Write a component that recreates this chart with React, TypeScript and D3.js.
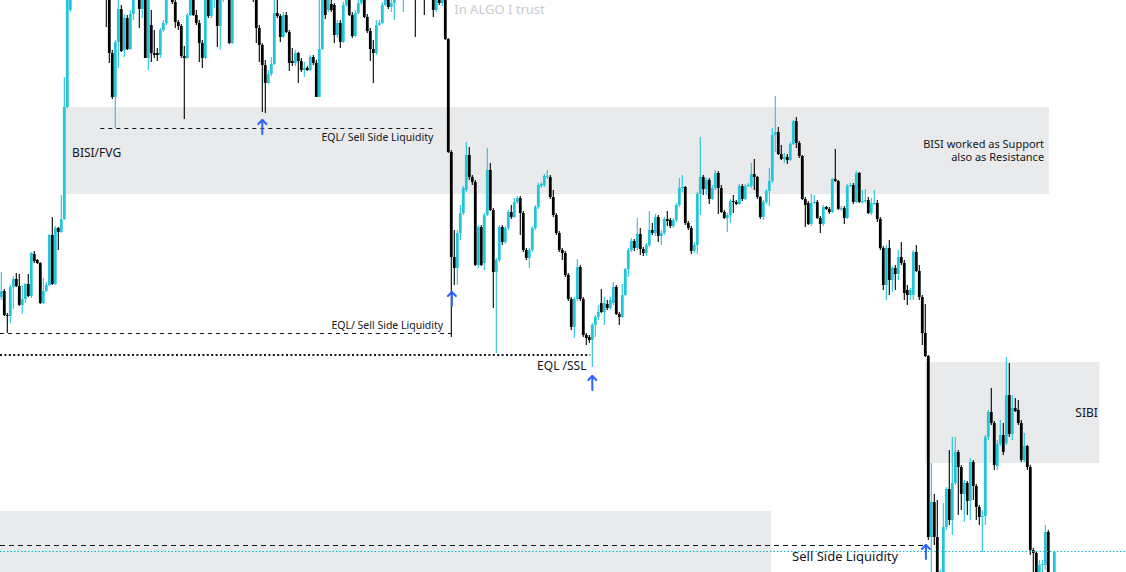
import React from "react";
import * as d3 from "d3";

// ---- Candle data (price units) ----
const OPEN = [
  403,409,385,384,413,421,414,395,401,416, 404,446,440,437,397,409,415,465,416,472,
  468,481,593,690,770,810,795,830,850,820, 790,805,770,755,775,740,715,647,603,658,
  691,650,682,651,686,708,720,691,715,642, 675,647,647,645,670,677,705,720,698,678,
  674,644,642,685,705,685,677,657,642,702, 684,703,715,674,703,715,725,657,710,730,
  745,730,750,725,712,708,672,655,635,617, 626,636,687,684,663,685,668,639,637,647,
  639,630,632,630,643,637,603,651,705,690, 696,695,665,677,658,695,708,685,664,687,
  697,705,683,669,651,647,675,677,695,705, 693,697,704,710,702,712,720,708,703,702,
  715,720,710,718,705,690,705,697,703,661, 548,443,432,467,487,510,545,523,518,435,
  473,437,485,530,490,428,440,473,458,472, 488,483,498,502,487,450,442,450,472,493,
  514,515,523,523,503,485,467,450,447,425, 401,373,401,433,401,365,363,360,375,383,
  397,388,396,392,397,413,386,383,405,431, 450,459,452,466,451,447,455,470,467,483,
  464,467,481,480,474,480,495,512,513,477, 472,449,455,506,523,511,520,501,512,527,
  512,488,482,485,499,498,496,514,501,514, 514,526,523,503,483,498,509,519,565,568,
  546,541,543,540,556,579,557,544,501,497, 476,497,498,482,476,493,491,488,521,519,
  491,492,482,514,515,498,527,498,499,500, 487,496,497,481,452,415,452,420,432,426,
  443,437,410,405,405,448,429,403,367,344, 163,198,163,100,110,173,211,180,217,248,
  233,206,217,199,238,214,193,183,184,263, 288,277,234,256,265,257,305,266,292,290,
  277,240,254,233,150,147,110,135,135,168, 110,100,
];
const HIGH = [
  428,411,387,415,424,427,426,415,417,426, 448,449,441,438,422,418,466,483,474,473,
  505,623,730,780,820,825,840,860,855,825, 815,810,780,785,780,750,720,650,660,700,
  695,686,685,690,715,730,730,725,720,720, 690,670,652,672,680,710,730,725,700,680,
  676,654,687,710,710,690,680,660,708,705, 708,725,720,708,720,735,730,715,740,755,
  750,760,755,730,720,712,675,657,640,630, 643,700,705,686,688,688,670,652,650,648,
  642,638,634,645,645,640,700,710,710,708, 705,697,680,680,698,712,712,688,690,700,
  708,708,686,672,660,680,680,698,710,710, 700,710,720,715,720,730,725,712,708,722,
  728,725,725,722,710,710,710,708,708,662, 550,470,470,495,514,558,553,525,520,475,
  475,487,552,537,492,442,475,475,474,490, 495,502,504,504,489,452,452,474,495,517,
  518,526,530,525,510,487,469,452,449,427, 403,403,441,435,403,367,365,377,385,395,
  411,403,400,403,418,415,388,416,432,452, 462,461,482,472,453,457,489,477,486,485,
  470,483,489,482,482,497,522,525,514,479, 474,458,508,563,525,522,522,515,530,529,
  515,490,487,501,505,500,516,516,516,517, 537,541,524,504,500,511,532,572,604,573,
  555,547,546,558,580,583,559,545,503,499, 506,505,500,484,495,494,493,522,551,520,
  494,494,516,517,517,529,528,510,511,503, 502,510,500,483,454,455,460,434,435,450,
  458,440,415,412,450,455,435,405,396,345, 237,206,200,130,197,213,250,263,263,250,
  235,220,219,242,240,216,195,190,265,290, 312,279,260,280,277,343,337,305,302,300,
  280,267,255,235,152,149,140,140,175,170, 115,148,
];
const LOW = [
  400,384,367,377,391,413,394,386,397,403, 402,437,436,396,396,408,414,415,415,450,
  467,480,592,688,760,790,790,825,815,785, 780,765,745,750,730,673,637,601,572,632,
  648,643,650,650,680,702,672,682,642,630, 638,642,639,642,668,675,702,696,672,670,
  642,581,641,684,684,675,638,632,641,682, 682,692,653,650,698,710,656,656,705,725,
  720,725,715,705,698,657,638,588,587,616, 624,635,682,658,662,667,629,634,634,617,
  628,623,629,629,635,603,603,650,681,688, 688,657,662,652,657,693,684,662,663,686,
  695,682,667,639,617,645,674,676,694,691, 688,680,702,700,688,708,705,700,663,700,
  710,685,705,700,683,688,695,694,660,547, 363,415,415,460,485,508,520,515,434,432,
  434,430,484,489,392,347,438,455,456,470, 481,482,496,465,448,440,432,448,470,491,
  512,513,521,501,483,465,448,440,423,399, 370,362,399,399,363,355,357,333,363,380,
  387,375,390,390,395,385,375,382,404,423, 448,449,450,445,444,444,453,465,464,458,
  455,465,474,472,472,478,493,508,475,470, 446,447,446,485,505,505,496,500,510,486,
  487,481,468,477,487,495,495,499,500,513, 512,510,501,481,480,496,494,517,548,545,
  540,537,536,539,555,552,542,500,473,475, 474,496,481,467,474,490,486,487,518,490,
  489,476,481,513,496,497,497,496,497,486, 485,495,478,450,410,400,405,408,410,420,
  435,400,395,400,400,428,400,355,343,160, 110,155,100,90,100,170,175,165,215,185,
  190,178,185,180,200,180,175,148,175,260, 275,230,230,254,245,255,263,260,288,275,
  238,238,230,145,100,100,100,125,130,100, 90,90,
];
const CLOSE = [
  409,385,385,413,421,414,395,401,416,404, 447,439,437,397,409,415,465,416,472,468,
  481,593,720,770,810,795,830,850,820,790, 805,770,755,775,740,715,647,603,658,691,
  649,682,651,686,708,720,691,715,642,710, 647,645,645,670,677,705,720,698,678,674,
  644,642,685,705,685,677,657,642,702,684, 703,715,674,703,715,725,657,710,730,745,
  730,750,725,712,708,672,655,635,617,626, 636,687,684,663,685,668,637,637,647,639,
  630,632,630,643,637,603,651,705,685,702, 690,665,677,658,695,705,685,664,687,697,
  705,683,669,651,647,675,677,695,705,693, 697,704,710,702,712,720,708,703,702,715,
  720,710,718,705,690,705,697,703,661,548, 443,432,467,487,512,545,523,518,435,473,
  435,485,530,490,428,440,473,458,472,488, 483,498,502,487,450,442,450,472,493,515,
  516,524,524,503,485,467,450,447,425,401, 373,401,433,401,365,362,360,375,383,388,
  388,397,392,400,413,386,383,405,431,450, 459,452,466,451,447,455,470,467,483,464,
  467,481,479,474,480,495,512,513,477,472, 449,455,506,523,511,520,501,512,527,512,
  488,482,485,499,498,496,514,501,514,515, 526,523,503,483,498,509,519,565,568,546,
  541,543,540,556,579,557,544,501,495,476, 497,498,482,476,493,491,488,521,519,491,
  492,482,514,515,498,527,498,499,500,487, 497,497,481,452,415,452,420,432,426,443,
  437,407,405,410,448,429,403,367,344,163, 198,163,110,115,173,211,180,217,248,233,
  206,217,199,238,214,193,183,184,263,288, 277,235,256,265,248,305,266,292,289,277,
  240,254,233,150,147,110,135,136,168,110, 100,148,
];

// ---- Annotations (candle index / price level) ----
const ZONE_BISI = { from: 21, to: 349.2, top: 593, bottom: 506, label: "BISI/FVG" };
const ZONE_SIBI = { from: 308, to: 366, top: 338, bottom: 237, label: "SIBI" };
const ZONE_LOW = { from: -0.5, to: 256.6, top: 189, bottom: 120 };
const EQL_LINES = [
  { from: 33, to: 145, price: 572, label: "EQL/ Sell Side Liquidity", labelEnd: 144, labelPrice: 559 },
  { from: -0.5, to: 150, price: 367, label: "EQL/ Sell Side Liquidity", labelEnd: 147.3, labelPrice: 371 },
];
const SSL_DOTTED = { from: -0.5, to: 196.3, price: 345, label: "EQL /SSL", labelStart: 178.6, labelPrice: 330 };
const LOW_DASHED = { from: -0.5, to: 308, price: 155 };
const CYAN_LINE = { price: 149 };
const ARROWS = [
  { i: 87, price: 581 },
  { i: 150.2, price: 409 },
  { i: 197, price: 325 },
  { i: 308.2, price: 156 },
];
const NOTE_LINES = ["BISI worked as Support", "also as Resistance"];

const W = 1126;
const H = 572;
const CYAN = "#22c5da";
const BLACK = "#000000";
const ZONE = "#e9eaec";
const BLUE = "#2962ff";
const FONT = "'Noto Sans', 'Open Sans', sans-serif";

export default function App() {
  const n = Math.min(OPEN.length, HIGH.length, LOW.length, CLOSE.length);
  const x = d3.scaleLinear().domain([0, 351]).range([1.3, 1054.3]);
  const y = d3.scaleLinear().domain([128, 700]).range([H, 0]);
  const bodyW = 2.8;

  const candles = d3.range(n).map((i) => {
    const up = CLOSE[i] > OPEN[i];
    const color = up ? CYAN : BLACK;
    const cx = x(i);
    const yTop = y(Math.max(OPEN[i], CLOSE[i]));
    const yBot = y(Math.min(OPEN[i], CLOSE[i]));
    return (
      <g key={i}>
        <line x1={cx} x2={cx} y1={y(HIGH[i])} y2={y(LOW[i])} stroke={color} strokeWidth={1.1} />
        <rect x={cx - bodyW / 2} y={yTop} width={bodyW} height={Math.max(1, yBot - yTop)} fill={color} />
      </g>
    );
  });

  const zoneRect = (z: { from: number; to: number; top: number; bottom: number }, key: string) => (
    <rect key={key} x={x(z.from)} y={y(z.top)} width={x(z.to) - x(z.from)} height={y(z.bottom) - y(z.top)} fill={ZONE} />
  );

  const arrow = (a: { i: number; price: number }, k: number) => {
    const ax = x(a.i);
    const ay = y(a.price);
    return (
      <g key={k} stroke={BLUE} strokeWidth={2} fill="none" strokeLinecap="round" strokeLinejoin="round">
        <line x1={ax} x2={ax} y1={ay + 1} y2={ay + 15} />
        <polyline points={`${ax - 4},${ay + 5} ${ax},${ay + 1} ${ax + 4},${ay + 5}`} />
      </g>
    );
  };

  const noteX = x(347.6);

  return (
    <svg
      width={W}
      height={H}
      style={{ position: "absolute", left: 0, top: 0, background: "#ffffff", display: "block" }}
      fontFamily={FONT}
    >
      <rect x={0} y={0} width={W} height={H} fill="#ffffff" />
      {zoneRect(ZONE_BISI, "bisi")}
      {zoneRect(ZONE_SIBI, "sibi")}
      {zoneRect(ZONE_LOW, "low")}

      {candles}

      {/* watermark-like text */}
      <text x={x(151)} y={14} fontSize={13} fill="#c9cacf">In ALGO I trust</text>

      {/* EQL dashed lines */}
      {EQL_LINES.map((l, k) => (
        <g key={k}>
          <line
            x1={Math.max(0, x(l.from))}
            x2={x(l.to)}
            y1={Math.round(y(l.price)) + 0.5}
            y2={Math.round(y(l.price)) + 0.5}
            stroke="#131722"
            strokeWidth={1}
            strokeDasharray="4 4"
          />
          <text x={x(l.labelEnd)} y={y(l.labelPrice)} fontSize={10.5} fill="#131722" textAnchor="end">
            {l.label}
          </text>
        </g>
      ))}

      {/* dotted EQL / SSL line */}
      <line
        x1={0}
        x2={x(SSL_DOTTED.to)}
        y1={y(SSL_DOTTED.price)}
        y2={y(SSL_DOTTED.price)}
        stroke="#131722"
        strokeWidth={2}
        strokeDasharray="2 2.4"
      />
      <text x={x(SSL_DOTTED.labelStart)} y={y(SSL_DOTTED.labelPrice)} fontSize={12} fill="#131722">
        {SSL_DOTTED.label}
      </text>

      {/* lower dashed line and cyan dotted line */}
      <line
        x1={0}
        x2={x(LOW_DASHED.to)}
        y1={Math.round(y(LOW_DASHED.price)) + 0.5}
        y2={Math.round(y(LOW_DASHED.price)) + 0.5}
        stroke="#131722"
        strokeWidth={1}
        strokeDasharray="5 4"
      />
      <line
        x1={0}
        x2={W}
        y1={Math.round(y(CYAN_LINE.price)) + 0.5}
        y2={Math.round(y(CYAN_LINE.price)) + 0.5}
        stroke="#00bcd4"
        strokeWidth={1}
        strokeDasharray="1.5 2"
      />

      {/* labels */}
      <text x={x(23.6)} y={y(543)} fontSize={12} fill="#131722">{ZONE_BISI.label}</text>
      <text x={noteX} y={y(552)} fontSize={11} fill="#131722" textAnchor="end">
        <tspan x={noteX}>{NOTE_LINES[0]}</tspan>
        <tspan x={noteX} dy={12.5}>{NOTE_LINES[1]}</tspan>
      </text>
      <text x={x(358)} y={y(283)} fontSize={12} fill="#131722">{ZONE_SIBI.label}</text>
      <text x={x(263.6)} y={y(139)} fontSize={13} fill="#131722">Sell Side Liquidity</text>

      {ARROWS.map(arrow)}
    </svg>
  );
}
